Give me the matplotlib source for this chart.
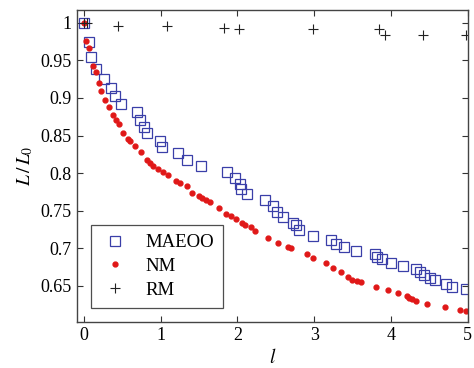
import numpy as np
import matplotlib
matplotlib.use("Agg")
import matplotlib.pyplot as plt

# MAEOO (open squares)
maeoo_l = [0.00, 0.07, 0.10, 0.16, 0.26, 0.36, 0.41, 0.48, 0.70, 0.73, 0.79, 0.82,
           0.99, 1.02, 1.23, 1.34, 1.53, 1.87, 1.97, 2.03, 2.05, 2.13, 2.36, 2.46,
           2.52, 2.59, 2.73, 2.76, 2.80, 2.99, 3.22, 3.28, 3.39, 3.54, 3.79, 3.82,
           3.88, 4.00, 4.16, 4.32, 4.38, 4.43, 4.51, 4.57, 4.72, 4.79, 4.98]
maeoo_v = [1.000, 0.975, 0.955, 0.939, 0.925, 0.913, 0.902, 0.892, 0.881, 0.870, 0.861, 0.854,
           0.843, 0.835, 0.827, 0.818, 0.809, 0.801, 0.793, 0.785, 0.779, 0.772, 0.764, 0.756,
           0.748, 0.741, 0.734, 0.731, 0.725, 0.717, 0.711, 0.706, 0.702, 0.697, 0.692, 0.689,
           0.686, 0.680, 0.676, 0.672, 0.668, 0.665, 0.661, 0.658, 0.653, 0.648, 0.646]

# NM (red dots)
nm_l = [0.00, 0.035, 0.069, 0.121, 0.156, 0.199, 0.228, 0.273, 0.332, 0.378, 0.417, 0.460,
        0.512, 0.577, 0.605, 0.664, 0.742, 0.827, 0.859, 0.898, 0.967, 1.029, 1.098, 1.202,
        1.254, 1.341, 1.404, 1.501, 1.546, 1.598, 1.645, 1.764, 1.858, 1.923, 1.988, 2.060,
        2.103, 2.181, 2.233, 2.400, 2.530, 2.663, 2.704, 2.908, 2.986, 3.155, 3.242, 3.355,
        3.435, 3.486, 3.551, 3.604, 3.811, 3.962, 4.092, 4.202, 4.238, 4.271, 4.323, 4.473,
        4.701, 4.892, 4.974]
nm_v = [0.999, 0.976, 0.967, 0.943, 0.934, 0.920, 0.909, 0.897, 0.888, 0.877, 0.871, 0.865,
        0.854, 0.846, 0.843, 0.836, 0.828, 0.817, 0.813, 0.810, 0.805, 0.802, 0.797, 0.790,
        0.787, 0.783, 0.774, 0.770, 0.767, 0.764, 0.761, 0.754, 0.746, 0.743, 0.739, 0.734,
        0.731, 0.728, 0.723, 0.714, 0.707, 0.702, 0.700, 0.693, 0.687, 0.680, 0.674, 0.668,
        0.662, 0.658, 0.657, 0.655, 0.649, 0.645, 0.641, 0.636, 0.634, 0.632, 0.630, 0.626,
        0.622, 0.618, 0.616]

# RM (plus markers)
rm_l = [0.00, 0.04, 0.44, 1.08, 1.83, 2.02, 2.98, 3.85, 3.92, 4.42, 4.97]
rm_v = [1.000, 0.999, 0.996, 0.995, 0.993, 0.992, 0.992, 0.992, 0.984, 0.984, 0.984]

plt.rcParams['font.family'] = ['Liberation Serif', 'DejaVu Serif']
plt.rcParams['mathtext.fontset'] = 'stix'

fig = plt.figure(figsize=(4.74, 3.68), dpi=100)
ax = fig.add_axes([0.162, 0.125, 0.825, 0.848])

ax.plot(maeoo_l, maeoo_v, ls='none', marker='s', ms=7.2, mfc='none',
        mec='#3a3fa8', mew=0.9, label='MAEOO')
ax.plot(nm_l, nm_v, ls='none', marker='o', ms=3.5, mfc='#e01818',
        mec='#e01818', label='NM')
ax.plot(rm_l, rm_v, ls='none', marker='+', ms=7.5, mew=0.8,
        color='#222222', label='RM')

ax.set_xlim(-0.09, 5.0)
ax.set_ylim(0.602, 1.017)
ax.set_xticks([0, 1, 2, 3, 4, 5])
ax.set_yticks([0.65, 0.7, 0.75, 0.8, 0.85, 0.9, 0.95, 1])
ax.set_yticklabels(['0.65', '0.7', '0.75', '0.8', '0.85', '0.9', '0.95', '1'])
ax.tick_params(direction='in', top=True, right=True, labelsize=13,
               length=4, width=0.8, colors='#333333', labelcolor='black')
for s in ax.spines.values():
    s.set_color('#444444')
    s.set_linewidth(1.0)

ax.set_xlabel(r'$l$', fontsize=14, labelpad=3)
ax.set_ylabel(r'$L\,/\,L_0$', fontsize=14, labelpad=4)

leg = ax.legend(loc='lower left', bbox_to_anchor=(0.036, 0.045), borderaxespad=0,
                fontsize=13.5, frameon=True, fancybox=False, edgecolor='#222222',
                handletextpad=0.8, borderpad=0.5, labelspacing=0.35,
                handlelength=1.6)
leg.get_frame().set_linewidth(0.9)

fig.savefig('out.png', dpi=100)
